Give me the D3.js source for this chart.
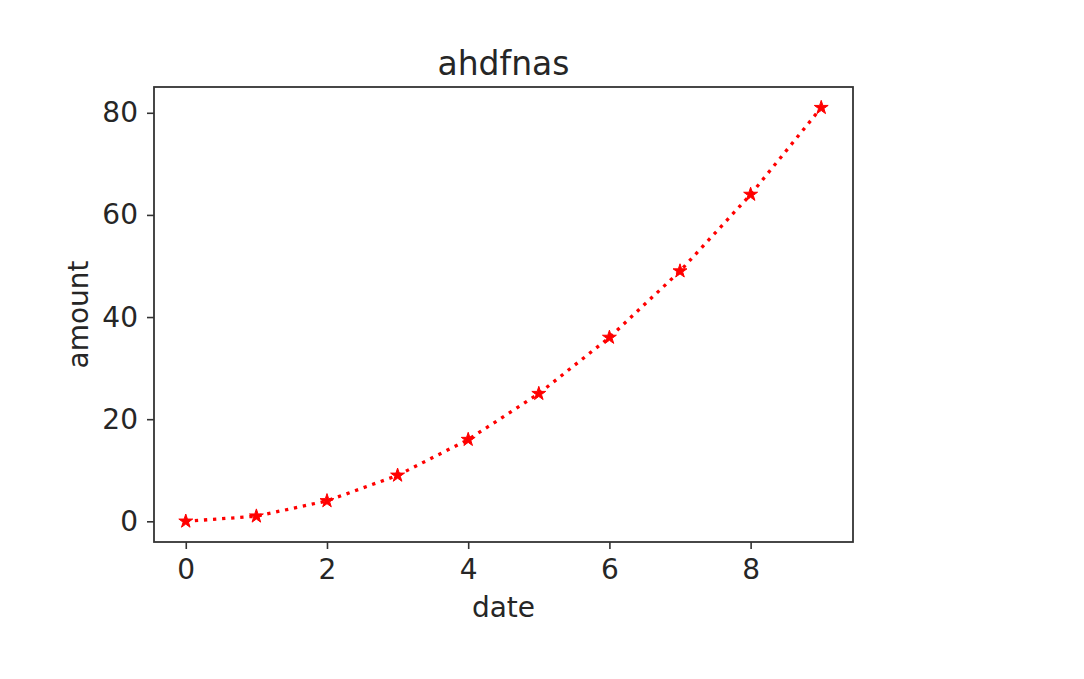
<!DOCTYPE html>
<html>
<head>
<meta charset="utf-8">
<script src="https://cdn.jsdelivr.net/npm/d3@7"></script>
<style>
  html, body { margin: 0; padding: 0; background: #fff; }
  svg { display: block; }
  text { font-family: "DejaVu Sans", sans-serif; fill: #262626; }
</style>
</head>
<body>
<svg id="chart" width="1084" height="679"></svg>
<script>
const dates = [0, 1, 2, 3, 4, 5, 6, 7, 8, 9];
const amounts = [0, 1, 4, 9, 16, 25, 36, 49, 64, 81];
const xTicks = [0, 2, 4, 6, 8];
const yTicks = [0, 20, 40, 60, 80];
const titleText = "ahdfnas";
const xLabel = "date";
const yLabel = "amount";

(function () {
const svg = d3.select("#chart");
const mLeft = 154, mRight = 853, mTop = 87, mBottom = 542;

const xMin = d3.min(dates), xMax = d3.max(dates);
const yMin = d3.min(amounts), yMax = d3.max(amounts);
const xPad = (xMax - xMin) * 0.05, yPad = (yMax - yMin) * 0.05;

const x = d3.scaleLinear().domain([xMin - xPad, xMax + xPad]).range([mLeft, mRight]);
const y = d3.scaleLinear().domain([yMin - yPad, yMax + yPad]).range([mBottom, mTop]);

// axes
const xAxis = svg.append("g").attr("transform", `translate(0,${mBottom})`)
  .call(d3.axisBottom(x).tickValues(xTicks).tickFormat(d3.format("d")).tickSize(7).tickPadding(10));
const yAxis = svg.append("g").attr("transform", `translate(${mLeft},0)`)
  .call(d3.axisLeft(y).tickValues(yTicks).tickFormat(d3.format("d")).tickSize(7).tickPadding(9));
[xAxis, yAxis].forEach(g => {
  g.select(".domain").remove();
  g.selectAll(".tick line").attr("stroke", "#333").attr("stroke-width", 1.6);
  g.selectAll(".tick text").style("font-family", "DejaVu Sans, sans-serif")
    .style("font-size", "28px").attr("fill", "#262626");
});

// frame
svg.append("rect").attr("x", mLeft).attr("y", mTop)
  .attr("width", mRight - mLeft).attr("height", mBottom - mTop)
  .attr("fill", "none").attr("stroke", "#333").attr("stroke-width", 1.8);

// line
const data = dates.map((d, i) => ({ x: d, y: amounts[i] }));
svg.append("path").datum(data)
  .attr("fill", "none").attr("stroke", "#ff0000").attr("stroke-width", 3.3)
  .attr("stroke-dasharray", "3.3,5.8")
  .attr("d", d3.line().x(d => x(d.x)).y(d => y(d.y)));

// markers
svg.selectAll(".star").data(data).enter().append("path")
  .attr("class", "star")
  .attr("transform", d => `translate(${x(d.x)},${y(d.y)})`)
  .attr("d", d3.symbol().type(d3.symbolStar).size(60))
  .attr("fill", "#ff0000").attr("stroke", "#ff0000").attr("stroke-width", 1);

// title & labels
svg.append("text").attr("x", (mLeft + mRight) / 2).attr("y", 75)
  .attr("text-anchor", "middle").style("font-size", "33px").text(titleText);
svg.append("text").attr("x", (mLeft + mRight) / 2).attr("y", 617)
  .attr("text-anchor", "middle").style("font-size", "28px").text(xLabel);
svg.append("text").attr("transform", `translate(88,${(mTop + mBottom) / 2}) rotate(-90)`)
  .attr("text-anchor", "middle").style("font-size", "28px").text(yLabel);
})();
</script>
</body>
</html>
